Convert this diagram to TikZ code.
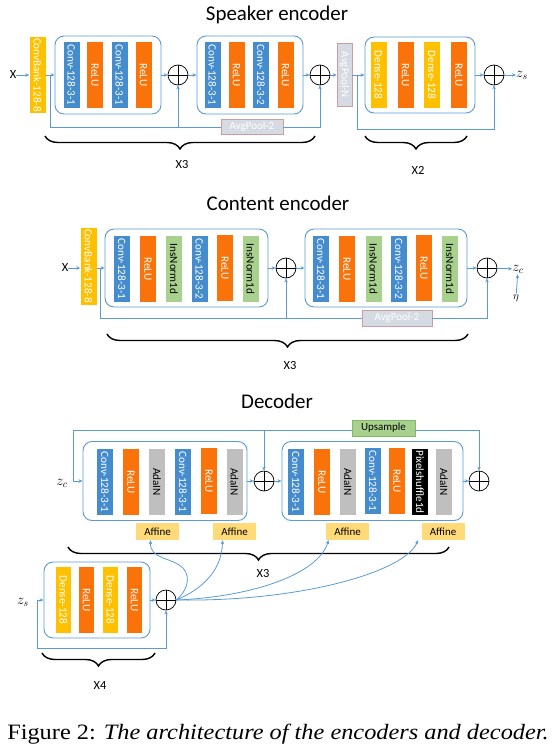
\documentclass[tikz,border=0pt]{standalone}
\usepackage{fontspec}
\setmainfont{Carlito}
\newfontfamily\capfont{Liberation Serif}
\usetikzlibrary{arrows.meta,decorations.pathreplacing}
\definecolor{cblue}{RGB}{68,140,206}
\definecolor{corg}{RGB}{250,115,10}
\definecolor{cyel}{RGB}{255,192,0}
\definecolor{cgrn}{RGB}{169,209,142}
\definecolor{cgry}{RGB}{191,191,191}
\definecolor{cline}{RGB}{91,155,213}
\definecolor{cpool}{RGB}{214,218,226}
\definecolor{cpoolb}{RGB}{200,160,160}
\definecolor{caff}{RGB}{255,218,120}
\definecolor{cupb}{RGB}{130,185,100}
\newcommand\vtext[1]{\rotatebox{-90}{#1}}
\tikzset{
  blk/.style={minimum width=16bp, minimum height=66bp, inner sep=0pt, font=\fontsize{11.2}{12}\selectfont, text=white},
  grp/.style={draw=cline, line width=0.9bp, rounded corners=9bp, inner sep=0pt},
  pool/.style={fill=cpool, draw=cpoolb, line width=0.6bp, inner sep=0pt, text=white, font=\fontsize{11}{12}\selectfont},
  aff/.style={fill=caff, inner sep=0pt, minimum width=43bp, minimum height=17bp, font=\fontsize{11}{12}\selectfont},
  plus/.style={circle, draw=black, line width=0.7bp, minimum size=20bp, inner sep=0pt,
    path picture={\draw[line width=0.7bp] (path picture bounding box.north) -- (path picture bounding box.south)
      (path picture bounding box.west) -- (path picture bounding box.east);}},
  arr/.style={draw=cline, line width=0.8bp, -{Stealth[length=4bp,width=3.5bp]}},
  ln/.style={draw=cline, line width=0.8bp},
  brc/.style={decorate, decoration={brace, amplitude=13bp}, line width=1.4bp},
  ttl/.style={font=\fontsize{21}{24}\selectfont, inner sep=0pt},
  lbl/.style={font=\fontsize{12.5}{14}\selectfont, inner sep=0pt},
  mlbl/.style={font=\fontsize{14}{16}\selectfont, inner sep=0pt},
}
\begin{document}
\begin{tikzpicture}[x=1bp,y=-1bp]
\useasboundingbox (0,0) rectangle (552,753);
% ---------------- Speaker encoder ----------------
\node[ttl] (t1) at (277,15) {Speaker encoder};
\node[lbl] (sx) at (13,75) {X};
\node[blk, fill=cyel, minimum height=76bp] (scb) at (37.5,75) {\vtext{ConvBank-128-8}};
\node[grp, minimum width=106bp, minimum height=78bp] (sg1) at (108,75) {};
\node[blk, fill=cblue] (s11) at (71.5,75) {\vtext{Conv-128-3-1}};
\node[blk, fill=corg] (s12) at (95,75) {\vtext{ReLU}};
\node[blk, fill=cblue] (s13) at (119.5,75) {\vtext{Conv-128-3-1}};
\node[blk, fill=corg] (s14) at (143.5,75) {\vtext{ReLU}};
\node[plus] (sp1) at (178,75) {};
\node[grp, minimum width=106bp, minimum height=78bp] (sg2) at (250,75) {};
\node[blk, fill=cblue] (s21) at (212.5,75) {\vtext{Conv-128-3-1}};
\node[blk, fill=corg] (s22) at (236.5,75) {\vtext{ReLU}};
\node[blk, fill=cblue] (s23) at (261,75) {\vtext{Conv-128-3-2}};
\node[blk, fill=corg] (s24) at (285.5,75) {\vtext{ReLU}};
\node[plus] (sp2) at (320,75) {};
\node[pool, minimum width=15bp, minimum height=63bp] (san) at (344.5,75) {\vtext{AvgPool-N}};
\node[grp, minimum width=110bp, minimum height=76bp] (sg3) at (420,75) {};
\node[blk, fill=cyel] (s31) at (378.5,75) {\vtext{Dense-128}};
\node[blk, fill=corg] (s32) at (405.5,75) {\vtext{ReLU}};
\node[blk, fill=cyel] (s33) at (432,75) {\vtext{Dense-128}};
\node[blk, fill=corg] (s34) at (459,75) {\vtext{ReLU}};
\node[plus] (sp3) at (494,75) {};
\node[mlbl] (szs) at (522,75) {$z_s$};
\node[pool, minimum width=62bp, minimum height=15bp] (sap) at (252,127) {AvgPool-2};
\coordinate (s1a) at (50,75);
\coordinate (s3a) at (357,75);
\coordinate (s3b) at (357,129);
\draw[arr] (sx) -- (scb);
\draw[arr] (scb) -- (sg1);
\draw[arr] (sg1) -- (sp1);
\draw[arr] (sp1) -- (sg2);
\draw[arr] (sg2) -- (sp2);
\draw[arr] (sp2) -- (san);
\draw[arr] (san) -- (sg3);
\draw[arr] (sg3) -- (sp3);
\draw[arr] (sp3) -- (szs);
\draw[ln] (s1a) |- (sap.west);
\draw[arr] (sap.west -| sp1.south) -- (sp1.south);
\draw[arr] (sap.east) -| (sp2.south);
\draw[arr] (s3a) -- (s3b) -| (sp3.south);
\draw[brc] (315,136) -- (45,136);
\node[lbl] (sx3) at (182,165) {X3};
\draw[brc] (467,136) -- (365,136);
\node[lbl] (sx2) at (418,170) {X2};
% ---------------- Content encoder ----------------
\node[ttl] (t2) at (278,203) {Content encoder};
\node[lbl] (cx) at (65,268) {X};
\node[blk, fill=cyel, minimum height=77bp] (ccb) at (88.5,266) {\vtext{ConvBank-128-8}};
\node[grp, minimum width=163bp, minimum height=78bp] (cg1) at (186.5,268) {};
\node[blk, fill=cblue] (c11) at (122,269) {\vtext{Conv-128-3-1}};
\node[blk, fill=corg] (c12) at (148,269) {\vtext{ReLU}};
\node[blk, fill=cgrn, text=black] (c13) at (174,269) {\vtext{InsNorm1d}};
\node[blk, fill=cblue] (c14) at (199.5,269) {\vtext{Conv-128-3-2}};
\node[blk, fill=corg] (c15) at (225,268) {\vtext{ReLU}};
\node[blk, fill=cgrn, text=black] (c16) at (250.5,269) {\vtext{InsNorm1d}};
\node[plus] (cp1) at (286,268) {};
\node[grp, minimum width=162bp, minimum height=78bp] (cg2) at (386,268) {};
\node[blk, fill=cblue] (c21) at (321,269) {\vtext{Conv-128-3-1}};
\node[blk, fill=corg] (c22) at (347,269) {\vtext{ReLU}};
\node[blk, fill=cgrn, text=black] (c23) at (373.5,269) {\vtext{InsNorm1d}};
\node[blk, fill=cblue] (c24) at (399,269) {\vtext{Conv-128-3-2}};
\node[blk, fill=corg] (c25) at (424,268) {\vtext{ReLU}};
\node[blk, fill=cgrn, text=black] (c26) at (450,269) {\vtext{InsNorm1d}};
\node[plus] (cp2) at (487,268) {};
\node[mlbl] (czc) at (518,269) {$z_c$};
\node[font=\fontsize{11}{12}\selectfont, inner sep=1pt] (ceta) at (516,298) {$\eta$};
\node[pool, minimum width=70bp, minimum height=16bp] (cap) at (397,318) {AvgPool-2};
\coordinate (c1a) at (100,268);
\draw[arr] (cx) -- (cx -| ccb.west);
\draw[arr] (ccb.east |- cg1.west) -- (cg1.west);
\draw[arr] (cg1) -- (cp1);
\draw[arr] (cp1) -- (cg2);
\draw[arr] (cg2) -- (cp2);
\draw[arr] (cp2) -- (czc);
\draw[arr, shorten >=1bp] (ceta) -- (czc);
\draw[ln] (c1a) |- (cap.west);
\draw[arr] (cap.west -| cp1.south) -- (cp1.south);
\draw[arr] (cap.east) -| (cp2.south);
\draw[brc] (468,334) -- (107,334);
\node[lbl] (cx3) at (290,365) {X3};
% ---------------- Decoder ----------------
\node[ttl] (t3) at (277,401) {Decoder};
\node[mlbl] (dzc) at (62,483) {$z_c$};
\coordinate (d0) at (73,481);
\coordinate (dtop) at (73,430);
\node[grp, minimum width=164bp, minimum height=79bp] (dg1) at (165,481) {};
\node[blk, fill=cblue] (d11) at (105,482) {\vtext{Conv-128-3-1}};
\node[blk, fill=corg] (d12) at (131,482) {\vtext{ReLU}};
\node[blk, fill=cgry, text=black] (d13) at (157,482) {\vtext{AdaIN}};
\node[blk, fill=cblue] (d14) at (183,482) {\vtext{Conv-128-3-1}};
\node[blk, fill=corg] (d15) at (209,481) {\vtext{ReLU}};
\node[blk, fill=cgry, text=black] (d16) at (234.5,482) {\vtext{AdaIN}};
\node[plus] (dp1) at (264,481) {};
\node[grp, minimum width=181bp, minimum height=79bp] (dg2) at (372.5,481) {};
\node[blk, fill=cblue] (d21) at (296,482) {\vtext{Conv-128-3-1}};
\node[blk, fill=corg] (d22) at (322,482) {\vtext{ReLU}};
\node[blk, fill=cgry, text=black] (d23) at (348,482) {\vtext{AdaIN}};
\node[blk, fill=cblue] (d24) at (373,481) {\vtext{Conv-128-3-1}};
\node[blk, fill=corg] (d25) at (397,481) {\vtext{ReLU}};
\node[blk, fill=black] (d26) at (420,482) {\vtext{Pixelshuffle1d}};
\node[blk, fill=cgry, text=black] (d27) at (444,482) {\vtext{AdaIN}};
\node[plus] (dp2) at (479,481) {};
\node[fill=cgrn, draw=cupb, line width=0.5bp, inner sep=0pt, minimum width=63bp, minimum height=16bp, font=\fontsize{11}{12}\selectfont] (dup) at (383.5,428) {Upsample};
\node[aff] (af1) at (157.5,531.5) {Affine};
\node[aff] (af2) at (234.5,531.5) {Affine};
\node[aff] (af3) at (347.5,531.5) {Affine};
\node[aff] (af4) at (443,531.5) {Affine};
\draw[arr] (d0) -- (dg1.west |- d0);
\draw[ln] (d0) -- (dtop) -- (dtop -| dup.west);
\draw[arr] (dtop -| dup.east) -| (dp2.north);
\draw[arr] (dtop -| dp1.north) -- (dp1.north);
\draw[arr] (dg1) -- (dp1);
\draw[arr] (dp1) -- (dg2);
\draw[arr] (dg2) -- (dp2);
\draw[brc] (449,547) -- (68,547);
\node[lbl] (dx3) at (263,573) {X3};
% lower block
\node[mlbl] (dzs) at (23,602) {$z_s$};
\coordinate (e0) at (37,600);
\coordinate (e1) at (37,648);
\node[grp, minimum width=106bp, minimum height=76bp] (dg3) at (97,600) {};
\node[blk, fill=cyel, minimum width=15bp] (d31) at (63.5,600) {\vtext{Dense-128}};
\node[blk, fill=corg, minimum width=15bp] (d32) at (86.5,600) {\vtext{ReLU}};
\node[blk, fill=cyel, minimum width=15bp] (d33) at (110.5,600) {\vtext{Dense-128}};
\node[blk, fill=corg, minimum width=15bp] (d34) at (134.5,600) {\vtext{ReLU}};
\node[plus] (dp3) at (166,600) {};
\draw[arr] (e0) -- (dg3.west |- e0);
\draw[arr] (e0) -- (e1) -| (dp3.south);
\draw[arr] (dg3) -- (dp3);
\draw[arr] (dp3.east) .. controls (186,592) and (192,578) .. (183,568) .. controls (172,557) and (150,560) .. ([xshift=-7bp]af1.south);
\draw[arr] (dp3.east) .. controls (200,590) and (222,572) .. ([xshift=-12bp]af2.south);
\draw[arr] (dp3.east) .. controls (250,597) and (318,575) .. ([xshift=-19bp]af3.south);
\draw[arr] (dp3.east) .. controls (300,602) and (405,572) .. ([xshift=-25bp]af4.south);
\draw[brc] (155,653) -- (42,653);
\node[lbl] (dx4) at (100,685) {X4};
% caption
\node[font=\fontsize{22}{24}\selectfont\capfont, inner sep=0pt] (cap2) at (278,734) {\scalebox{1.11}[1]{Figure 2: \textit{The architecture of the encoders and decoder.}}};
\end{tikzpicture}
\end{document}
